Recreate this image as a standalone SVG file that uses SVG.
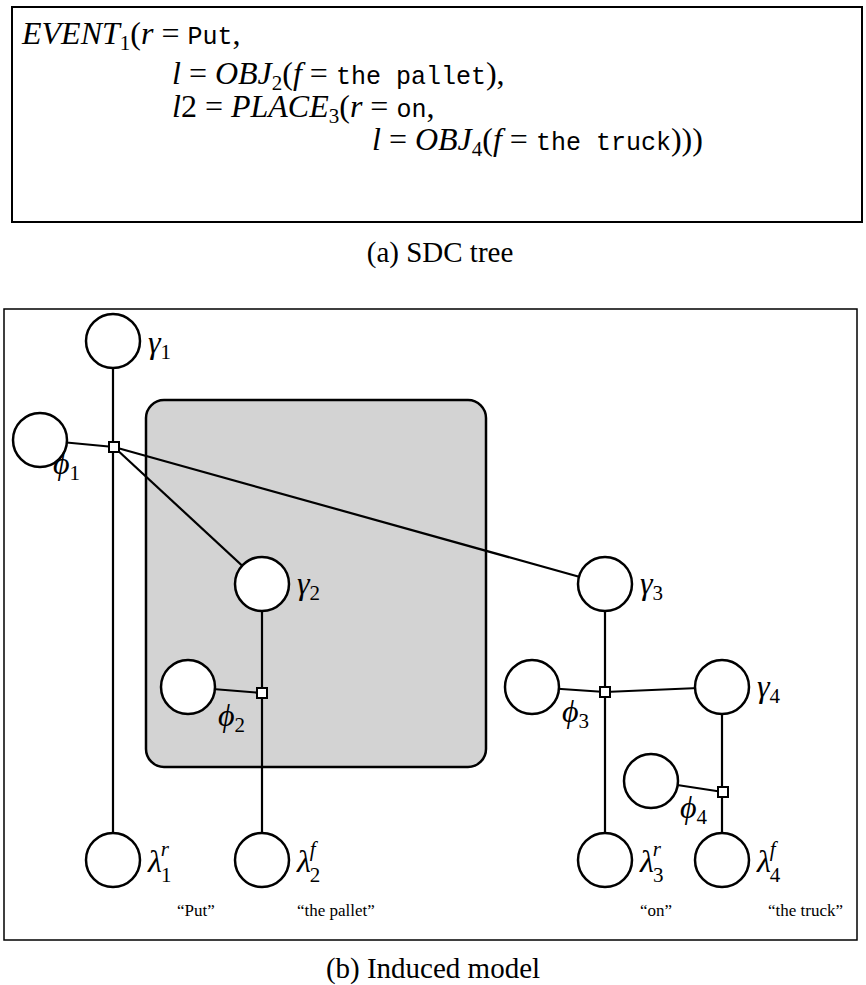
<svg xmlns="http://www.w3.org/2000/svg" width="866" height="985" viewBox="0 0 866 985">
<style>
.n{fill:#fff;stroke:#000;stroke-width:2.5}
.f{fill:#fff;stroke:#000;stroke-width:2}
.e{stroke:#000;stroke-width:2.2;fill:none}
.m{font-family:"Liberation Serif",serif;font-style:italic;font-size:32px}
.r{font-family:"Liberation Serif",serif;font-size:26px}
.t{font-family:"Liberation Mono",monospace;font-size:25px}
.s{font-family:"Liberation Serif",serif;font-size:17px}
.c{font-family:"Liberation Serif",serif;font-size:29px;text-anchor:middle}
</style>
<rect x="12" y="7" width="850" height="215" fill="#fff" stroke="#000" stroke-width="2"/>
<text x="22" y="44" class="m">EVENT<tspan font-size="21" font-style="normal" dy="6">1</tspan><tspan dy="-6" font-style="normal">(</tspan>r<tspan font-style="normal"> = </tspan><tspan class="t" font-style="normal">Put</tspan><tspan font-style="normal">,</tspan></text>
<text x="172" y="84" class="m">l<tspan font-style="normal"> = </tspan>OBJ<tspan font-size="21" font-style="normal" dy="6">2</tspan><tspan dy="-6" font-style="normal">(</tspan>f<tspan font-style="normal"> = </tspan><tspan class="t" font-style="normal">the pallet</tspan><tspan font-style="normal">),</tspan></text>
<text x="172" y="117" class="m">l<tspan font-style="normal">2 = </tspan>PLACE<tspan font-size="21" font-style="normal" dy="6">3</tspan><tspan dy="-6" font-style="normal">(</tspan>r<tspan font-style="normal"> = </tspan><tspan class="t" font-style="normal">on</tspan><tspan font-style="normal">,</tspan></text>
<text x="372" y="150" class="m">l<tspan font-style="normal"> = </tspan>OBJ<tspan font-size="21" font-style="normal" dy="6">4</tspan><tspan dy="-6" font-style="normal">(</tspan>f<tspan font-style="normal"> = </tspan><tspan class="t" font-style="normal">the truck</tspan><tspan font-style="normal">)))</tspan></text>
<text x="440" y="262" class="c">(a) SDC tree</text>
<rect x="4" y="309" width="853" height="631" fill="#fff" stroke="#000" stroke-width="1.5"/>
<rect id="plate" x="146" y="400" width="340" height="367" rx="18" fill="#d3d3d3" stroke="#000" stroke-width="2.5"/>
<g id="edges" class="e">
<line x1="113" y1="341" x2="113" y2="860"/>
<line x1="40" y1="440" x2="114" y2="447"/>
<line x1="114" y1="447" x2="262" y2="584"/>
<line x1="114" y1="447" x2="605" y2="584"/>
<line x1="262" y1="584" x2="262" y2="860"/>
<line x1="188" y1="687" x2="262" y2="693"/>
<line x1="605" y1="584" x2="605" y2="860"/>
<line x1="532" y1="687" x2="605" y2="692"/>
<line x1="605" y1="692" x2="722" y2="687"/>
<line x1="722" y1="687" x2="722" y2="860"/>
<line x1="651" y1="781" x2="723" y2="792"/>
</g>
<g id="g1"><circle class="n" cx="113" cy="341" r="27"/><text x="148" y="353" class="m">γ<tspan font-size="21" font-style="normal" dy="6">1</tspan></text></g>
<g id="p1"><circle class="n" cx="40" cy="440" r="27"/></g>
<g id="f1"><rect class="f" x="109" y="442" width="10" height="10"/><text x="53" y="474" class="m">ϕ<tspan font-size="21" font-style="normal" dy="6">1</tspan></text></g>
<g id="g2"><circle class="n" cx="262" cy="584" r="27"/><text x="297" y="594" class="m">γ<tspan font-size="21" font-style="normal" dy="6">2</tspan></text></g>
<g id="g3"><circle class="n" cx="605" cy="584" r="27"/><text x="640" y="594" class="m">γ<tspan font-size="21" font-style="normal" dy="6">3</tspan></text></g>
<g id="p2"><circle class="n" cx="188" cy="687" r="27"/></g>
<g id="f2"><rect class="f" x="257" y="688" width="10" height="10"/><text x="218" y="726" class="m">ϕ<tspan font-size="21" font-style="normal" dy="6">2</tspan></text></g>
<g id="p3"><circle class="n" cx="532" cy="687" r="27"/></g>
<g id="f3"><rect class="f" x="600" y="687" width="10" height="10"/><text x="562" y="722" class="m">ϕ<tspan font-size="21" font-style="normal" dy="6">3</tspan></text></g>
<g id="g4"><circle class="n" cx="722" cy="687" r="27"/><text x="757" y="697" class="m">γ<tspan font-size="21" font-style="normal" dy="6">4</tspan></text></g>
<g id="p4"><circle class="n" cx="651" cy="781" r="27"/></g>
<g id="f4"><rect class="f" x="718" y="787" width="10" height="10"/><text x="680" y="818" class="m">ϕ<tspan font-size="21" font-style="normal" dy="6">4</tspan></text></g>
<g id="l1"><circle class="n" cx="113" cy="860" r="27"/><text x="148" y="872" class="m">λ<tspan font-size="21" dx="-1" dy="-16">r</tspan><tspan font-size="21" font-style="normal" dx="-8" dy="26">1</tspan></text><text x="177" y="916" class="s">“Put”</text></g>
<g id="l2"><circle class="n" cx="262" cy="860" r="27"/><text x="297" y="872" class="m">λ<tspan font-size="21" dx="-1" dy="-16">f</tspan><tspan font-size="21" font-style="normal" dx="-6" dy="26">2</tspan></text><text x="297" y="916" class="s">“the pallet”</text></g>
<g id="l3"><circle class="n" cx="605" cy="860" r="27"/><text x="640" y="872" class="m">λ<tspan font-size="21" dx="-1" dy="-16">r</tspan><tspan font-size="21" font-style="normal" dx="-8" dy="26">3</tspan></text><text x="640" y="916" class="s">“on”</text></g>
<g id="l4"><circle class="n" cx="722" cy="860" r="27"/><text x="757" y="872" class="m">λ<tspan font-size="21" dx="-1" dy="-16">f</tspan><tspan font-size="21" font-style="normal" dx="-6" dy="26">4</tspan></text><text x="768" y="916" class="s">“the truck”</text></g>
<text x="433" y="978" class="c">(b) Induced model</text>
</svg>
